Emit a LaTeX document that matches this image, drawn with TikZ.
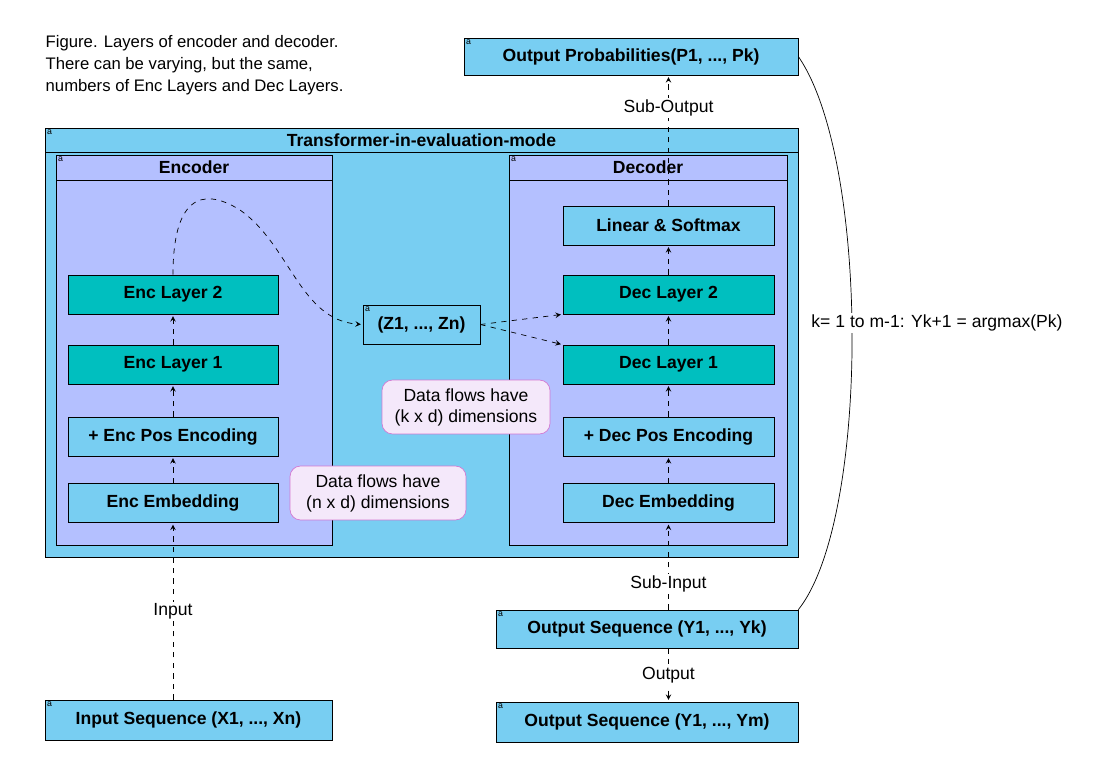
\documentclass[tikz,border=0pt]{standalone}
\usepackage{fontspec}
\setmainfont{Liberation Sans}
\usetikzlibrary{positioning}

\definecolor{boxblue}{RGB}{120,206,242}
\definecolor{teal2}{RGB}{0,191,191}
\definecolor{lavblue}{RGB}{180,192,255}
\definecolor{notefill}{RGB}{244,232,250}
\definecolor{notedraw}{RGB}{210,120,210}

\begin{document}
\begin{tikzpicture}[x=0.02cm,y=-0.02cm,>=stealth,
    thick,font=\fontsize{10}{12}\selectfont,
    box/.style={rectangle,draw,fill=boxblue,thin,font=\fontsize{10}{12}\selectfont\bfseries,minimum width=4.2cm,minimum height=0.78cm},
    layer/.style={box,fill=teal2},
    note/.style={rectangle,rounded corners=6pt,draw=notedraw,fill=notefill,thin,align=center,minimum width=3.36cm,minimum height=1.08cm},
    flow/.style={->,dashed,thin,shorten >=1pt},
    amark/.style={anchor=north west,inner sep=1pt,font=\fontsize{5}{5}\selectfont}]
	\useasboundingbox (0,0) rectangle (1113,763);

	% containers
	\node[box,minimum width=15.06cm,minimum height=8.58cm] (tf) at (421.5,342.5) {};
	\draw[thin] (45,152) -- (798,152);
	\node[font=\fontsize{10}{12}\selectfont\bfseries] at (421.5,140) {Transformer-in-evaluation-mode};
	\node[box,fill=lavblue,minimum width=5.52cm,minimum height=7.8cm] (enc) at (194,350) {};
	\draw[thin] (56,180) -- (332,180);
	\node[font=\fontsize{10}{12}\selectfont\bfseries] at (194,167.5) {Encoder};
	\node[box,fill=lavblue,minimum width=5.56cm,minimum height=7.8cm] (dec) at (648,350) {};
	\draw[thin] (509,180) -- (787,180);
	\node[font=\fontsize{10}{12}\selectfont\bfseries] at (648,167.5) {Decoder};

	% encoder side
	\node[layer] (el2) at (173,294.5) {Enc Layer 2};
	\node[layer] (el1) at (173,364.5) {Enc Layer 1};
	\node[box] (epos) at (173,436.5) {+ Enc Pos Encoding};
	\node[box] (eemb) at (173,503) {Enc Embedding};

	% decoder side
	\node[box,minimum width=4.22cm] (lin) at (668.5,225.5) {Linear \& Softmax};
	\node[layer,minimum width=4.22cm] (dl2) at (668.5,294.5) {Dec Layer 2};
	\node[layer,minimum width=4.22cm] (dl1) at (668.5,364.5) {Dec Layer 1};
	\node[box,minimum width=4.22cm] (dpos) at (668.5,436.5) {+ Dec Pos Encoding};
	\node[box,minimum width=4.22cm] (demb) at (668.5,503) {Dec Embedding};

	\node[box,minimum width=2.34cm] (z) at (421.5,324.5) {(Z1, ..., Zn)};
	\node[note] (nk) at (466,407) {Data flows have\\(k x d) dimensions};
	\node[note,minimum width=3.52cm] (nn) at (378,493) {Data flows have\\(n x d) dimensions};

	% outside
	\node[box,minimum width=6.68cm,minimum height=0.74cm] (prob) at (631,56.5) {Output Probabilities(P1, ..., Pk)};
	\node[box,minimum width=5.74cm,minimum height=0.8cm] (inseq) at (188.5,720) {Input Sequence (X1, ..., Xn)};
	\node[box,minimum width=6.04cm,minimum height=0.76cm] (outk) at (647,629) {Output Sequence (Y1, ..., Yk)};
	\node[box,minimum width=6.04cm,minimum height=0.8cm] (outm) at (647,722) {Output Sequence (Y1, ..., Ym)};
	\node[anchor=north west,align=left,inner sep=0pt,font=\fontsize{9.5}{12.5}\selectfont] (cap) at (45,35)
		{Figure. Layers of encoder and decoder.\\There can be varying, but the same,\\numbers of Enc Layers and Dec Layers.};

	\foreach \n in {tf,enc,dec,z,prob,inseq,outk,outm}
		\node[amark] at (\n.north west) {a};

	% flows
	\draw[flow] (inseq.north -| eemb.south) -- node[fill=white,inner sep=1pt] {Input} (eemb.south);
	\draw[flow] (eemb) -- (epos);
	\draw[flow] (epos) -- (el1);
	\draw[flow] (el1) -- (el2);
	\draw[flow] (el2.north) .. controls (173,200) and (200,185) .. (240,210) .. controls (290,245) and (300,320) .. (z.west);
	\draw[flow] (z.east) -- (dl2.south west);
	\draw[flow] (z.east) -- (dl1.north west);
	\draw[flow] (demb) -- (dpos);
	\draw[flow] (dpos) -- (dl1);
	\draw[flow] (dl1) -- (dl2);
	\draw[flow] (dl2) -- (lin);
	\draw[flow] (lin.north) -- node[fill=white,inner sep=1pt,pos=0.75] {Sub-Output} (lin.north |- prob.south);
	\draw[flow] (outk.north -| demb.south) -- node[fill=white,inner sep=1pt,pos=0.3] {Sub-Input} (demb.south);
	\draw[flow] (outk.south -| demb.south) -- node[fill=white,inner sep=1pt] {Output} (outm.north -| demb.south);
	\draw[thin] (outk.north east) .. controls (870,520) and (870,160) .. (prob.east);
	\node[fill=white,inner sep=1pt] (loop) at (937,323) {k= 1 to m-1: Yk+1 = argmax(Pk)};
\end{tikzpicture}
\end{document}
